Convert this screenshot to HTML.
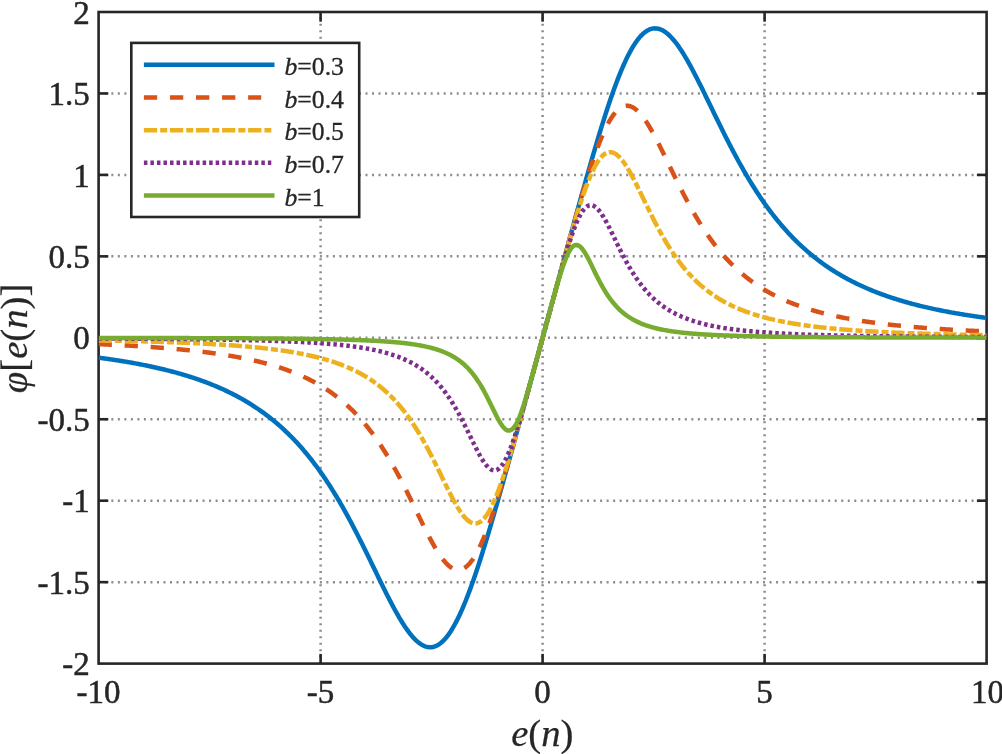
<!DOCTYPE html>
<html><head><meta charset="utf-8"><title>plot</title>
<style>
html,body{margin:0;padding:0;background:#fff;}
body{width:1002px;height:754px;overflow:hidden;}
svg{display:block;}
text{font-family:"Liberation Serif",serif;fill:#262626;stroke:#262626;stroke-width:0.5px;}
.tk{font-size:33px;}
.lg{font-size:25.7px;stroke-width:0.3px;}
.lb{font-size:38.7px;stroke-width:0.25px;}
.it{font-style:italic;}
</style></head><body>
<svg width="1002" height="754" viewBox="0 0 1002 754">
<rect x="0" y="0" width="1002" height="754" fill="#fff"/>

<g stroke="#8c8c8c" stroke-width="2.5" stroke-dasharray="2 4.517" fill="none">
<line x1="320.60" y1="663.60" x2="320.60" y2="12.00" stroke-dashoffset="0.73"/>
<line x1="542.60" y1="663.60" x2="542.60" y2="12.00" stroke-dashoffset="0.73"/>
<line x1="764.60" y1="663.60" x2="764.60" y2="12.00" stroke-dashoffset="0.73"/>
<line x1="98.60" y1="582.15" x2="986.60" y2="582.15" stroke-dashoffset="0.3"/>
<line x1="98.60" y1="500.70" x2="986.60" y2="500.70" stroke-dashoffset="0.3"/>
<line x1="98.60" y1="419.25" x2="986.60" y2="419.25" stroke-dashoffset="0.3"/>
<line x1="98.60" y1="337.80" x2="986.60" y2="337.80" stroke-dashoffset="0.3"/>
<line x1="98.60" y1="256.35" x2="986.60" y2="256.35" stroke-dashoffset="0.3"/>
<line x1="98.60" y1="174.90" x2="986.60" y2="174.90" stroke-dashoffset="0.3"/>
<line x1="98.60" y1="93.45" x2="986.60" y2="93.45" stroke-dashoffset="0.3"/>
</g>
<g stroke="#262626" stroke-width="2.6" fill="none">
<rect x="98.6" y="12.0" width="888.00" height="651.60"/>
<line x1="320.60" y1="663.6" x2="320.60" y2="653.9"/>
<line x1="320.60" y1="12.0" x2="320.60" y2="21.7"/>
<line x1="542.60" y1="663.6" x2="542.60" y2="653.9"/>
<line x1="542.60" y1="12.0" x2="542.60" y2="21.7"/>
<line x1="764.60" y1="663.6" x2="764.60" y2="653.9"/>
<line x1="764.60" y1="12.0" x2="764.60" y2="21.7"/>
<line x1="98.6" y1="582.15" x2="108.3" y2="582.15"/>
<line x1="986.6" y1="582.15" x2="976.9" y2="582.15"/>
<line x1="98.6" y1="500.70" x2="108.3" y2="500.70"/>
<line x1="986.6" y1="500.70" x2="976.9" y2="500.70"/>
<line x1="98.6" y1="419.25" x2="108.3" y2="419.25"/>
<line x1="986.6" y1="419.25" x2="976.9" y2="419.25"/>
<line x1="98.6" y1="337.80" x2="108.3" y2="337.80"/>
<line x1="986.6" y1="337.80" x2="976.9" y2="337.80"/>
<line x1="98.6" y1="256.35" x2="108.3" y2="256.35"/>
<line x1="986.6" y1="256.35" x2="976.9" y2="256.35"/>
<line x1="98.6" y1="174.90" x2="108.3" y2="174.90"/>
<line x1="986.6" y1="174.90" x2="976.9" y2="174.90"/>
<line x1="98.6" y1="93.45" x2="108.3" y2="93.45"/>
<line x1="986.6" y1="93.45" x2="976.9" y2="93.45"/>
</g>
<defs><clipPath id="cp"><rect x="98.60" y="12.00" width="888.00" height="651.60"/></clipPath></defs>
<g fill="none" stroke-width="4.50" stroke-linejoin="round" clip-path="url(#cp)">
<polyline stroke="#0072BD" points="98.60,357.67 99.71,357.81 100.82,357.96 101.93,358.11 103.04,358.26 104.15,358.42 105.26,358.57 106.37,358.73 107.48,358.89 108.59,359.04 109.70,359.21 110.81,359.37 111.92,359.53 113.03,359.70 114.14,359.87 115.25,360.03 116.36,360.21 117.47,360.38 118.58,360.55 119.69,360.73 120.80,360.91 121.91,361.09 123.02,361.27 124.13,361.45 125.24,361.64 126.35,361.82 127.46,362.01 128.57,362.20 129.68,362.40 130.79,362.59 131.90,362.79 133.01,362.99 134.12,363.19 135.23,363.39 136.34,363.60 137.45,363.81 138.56,364.02 139.67,364.23 140.78,364.44 141.89,364.66 143.00,364.88 144.11,365.10 145.22,365.32 146.33,365.55 147.44,365.78 148.55,366.01 149.66,366.24 150.77,366.48 151.88,366.72 152.99,366.96 154.10,367.20 155.21,367.45 156.32,367.70 157.43,367.95 158.54,368.20 159.65,368.46 160.76,368.72 161.87,368.98 162.98,369.25 164.09,369.52 165.20,369.79 166.31,370.07 167.42,370.34 168.53,370.63 169.64,370.91 170.75,371.20 171.86,371.49 172.97,371.78 174.08,372.08 175.19,372.38 176.30,372.69 177.41,372.99 178.52,373.31 179.63,373.62 180.74,373.94 181.85,374.26 182.96,374.59 184.07,374.92 185.18,375.25 186.29,375.59 187.40,375.93 188.51,376.28 189.62,376.63 190.73,376.98 191.84,377.34 192.95,377.70 194.06,378.07 195.17,378.44 196.28,378.81 197.39,379.19 198.50,379.58 199.61,379.96 200.72,380.36 201.83,380.76 202.94,381.16 204.05,381.57 205.16,381.98 206.27,382.40 207.38,382.82 208.49,383.25 209.60,383.68 210.71,384.12 211.82,384.56 212.93,385.01 214.04,385.47 215.15,385.93 216.26,386.39 217.37,386.87 218.48,387.34 219.59,387.83 220.70,388.32 221.81,388.81 222.92,389.31 224.03,389.82 225.14,390.34 226.25,390.86 227.36,391.39 228.47,391.92 229.58,392.46 230.69,393.01 231.80,393.57 232.91,394.13 234.02,394.70 235.13,395.27 236.24,395.86 237.35,396.45 238.46,397.05 239.57,397.65 240.68,398.27 241.79,398.89 242.90,399.52 244.01,400.16 245.12,400.81 246.23,401.46 247.34,402.13 248.45,402.80 249.56,403.48 250.67,404.17 251.78,404.87 252.89,405.58 254.00,406.29 255.11,407.02 256.22,407.76 257.33,408.50 258.44,409.26 259.55,410.03 260.66,410.80 261.77,411.59 262.88,412.38 263.99,413.19 265.10,414.01 266.21,414.84 267.32,415.68 268.43,416.53 269.54,417.39 270.65,418.26 271.76,419.15 272.87,420.05 273.98,420.95 275.09,421.88 276.20,422.81 277.31,423.75 278.42,424.71 279.53,425.68 280.64,426.67 281.75,427.66 282.86,428.67 283.97,429.70 285.08,430.74 286.19,431.79 287.30,432.85 288.41,433.93 289.52,435.02 290.63,436.13 291.74,437.26 292.85,438.39 293.96,439.55 295.07,440.71 296.18,441.90 297.29,443.09 298.40,444.31 299.51,445.54 300.62,446.78 301.73,448.05 302.84,449.33 303.95,450.62 305.06,451.93 306.17,453.26 307.28,454.61 308.39,455.97 309.50,457.35 310.61,458.75 311.72,460.17 312.83,461.60 313.94,463.05 315.05,464.52 316.16,466.01 317.27,467.52 318.38,469.04 319.49,470.59 320.60,472.15 321.71,473.73 322.82,475.33 323.93,476.95 325.04,478.59 326.15,480.25 327.26,481.93 328.37,483.62 329.48,485.34 330.59,487.07 331.70,488.83 332.81,490.60 333.92,492.39 335.03,494.21 336.14,496.04 337.25,497.89 338.36,499.76 339.47,501.65 340.58,503.56 341.69,505.48 342.80,507.43 343.91,509.39 345.02,511.37 346.13,513.38 347.24,515.39 348.35,517.43 349.46,519.48 350.57,521.55 351.68,523.64 352.79,525.74 353.90,527.86 355.01,529.99 356.12,532.14 357.23,534.31 358.34,536.48 359.45,538.67 360.56,540.88 361.67,543.09 362.78,545.32 363.89,547.55 365.00,549.80 366.11,552.05 367.22,554.32 368.33,556.59 369.44,558.86 370.55,561.14 371.66,563.43 372.77,565.72 373.88,568.01 374.99,570.30 376.10,572.59 377.21,574.88 378.32,577.16 379.43,579.44 380.54,581.72 381.65,583.98 382.76,586.24 383.87,588.49 384.98,590.72 386.09,592.94 387.20,595.15 388.31,597.33 389.42,599.50 390.53,601.65 391.64,603.77 392.75,605.87 393.86,607.94 394.97,609.98 396.08,611.99 397.19,613.96 398.30,615.90 399.41,617.81 400.52,619.67 401.63,621.49 402.74,623.27 403.85,625.00 404.96,626.69 406.07,628.32 407.18,629.90 408.29,631.42 409.40,632.89 410.51,634.30 411.62,635.64 412.73,636.93 413.84,638.14 414.95,639.29 416.06,640.37 417.17,641.38 418.28,642.31 419.39,643.17 420.50,643.95 421.61,644.65 422.72,645.27 423.83,645.81 424.94,646.27 426.05,646.64 427.16,646.92 428.27,647.11 429.38,647.22 430.49,647.24 431.60,647.16 432.71,647.00 433.82,646.74 434.93,646.39 436.04,645.95 437.15,645.41 438.26,644.78 439.37,644.06 440.48,643.24 441.59,642.32 442.70,641.32 443.81,640.22 444.92,639.02 446.03,637.74 447.14,636.36 448.25,634.89 449.36,633.33 450.47,631.69 451.58,629.95 452.69,628.13 453.80,626.22 454.91,624.23 456.02,622.15 457.13,619.99 458.24,617.76 459.35,615.44 460.46,613.05 461.57,610.58 462.68,608.04 463.79,605.43 464.90,602.75 466.01,600.00 467.12,597.18 468.23,594.30 469.34,591.36 470.45,588.36 471.56,585.30 472.67,582.19 473.78,579.02 474.89,575.80 476.00,572.52 477.11,569.21 478.22,565.84 479.33,562.43 480.44,558.98 481.55,555.48 482.66,551.95 483.77,548.39 484.88,544.78 485.99,541.14 487.10,537.48 488.21,533.78 489.32,530.05 490.43,526.30 491.54,522.52 492.65,518.72 493.76,514.89 494.87,511.04 495.98,507.18 497.09,503.29 498.20,499.39 499.31,495.47 500.42,491.54 501.53,487.59 502.64,483.63 503.75,479.66 504.86,475.68 505.97,471.69 507.08,467.69 508.19,463.68 509.30,459.66 510.41,455.64 511.52,451.61 512.63,447.57 513.74,443.53 514.85,439.49 515.96,435.44 517.07,431.38 518.18,427.33 519.29,423.27 520.40,419.21 521.51,415.15 522.62,411.08 523.73,407.01 524.84,402.95 525.95,398.88 527.06,394.81 528.17,390.74 529.28,386.67 530.39,382.60 531.50,378.52 532.61,374.45 533.72,370.38 534.83,366.31 535.94,362.23 537.05,358.16 538.16,354.09 539.27,350.02 540.38,345.94 541.49,341.87 542.60,337.80 543.71,333.73 544.82,329.66 545.93,325.58 547.04,321.51 548.15,317.44 549.26,313.37 550.37,309.29 551.48,305.22 552.59,301.15 553.70,297.08 554.81,293.00 555.92,288.93 557.03,284.86 558.14,280.79 559.25,276.72 560.36,272.65 561.47,268.59 562.58,264.52 563.69,260.45 564.80,256.39 565.91,252.33 567.02,248.27 568.13,244.22 569.24,240.16 570.35,236.11 571.46,232.07 572.57,228.03 573.68,223.99 574.79,219.96 575.90,215.94 577.01,211.92 578.12,207.91 579.23,203.91 580.34,199.92 581.45,195.94 582.56,191.97 583.67,188.01 584.78,184.06 585.89,180.13 587.00,176.21 588.11,172.31 589.22,168.42 590.33,164.56 591.44,160.71 592.55,156.88 593.66,153.08 594.77,149.30 595.88,145.55 596.99,141.82 598.10,138.12 599.21,134.46 600.32,130.82 601.43,127.21 602.54,123.65 603.65,120.12 604.76,116.62 605.87,113.17 606.98,109.76 608.09,106.39 609.20,103.08 610.31,99.80 611.42,96.58 612.53,93.41 613.64,90.30 614.75,87.24 615.86,84.24 616.97,81.30 618.08,78.42 619.19,75.60 620.30,72.85 621.41,70.17 622.52,67.56 623.63,65.02 624.74,62.55 625.85,60.16 626.96,57.84 628.07,55.61 629.18,53.45 630.29,51.37 631.40,49.38 632.51,47.47 633.62,45.65 634.73,43.91 635.84,42.27 636.95,40.71 638.06,39.24 639.17,37.86 640.28,36.58 641.39,35.38 642.50,34.28 643.61,33.28 644.72,32.36 645.83,31.54 646.94,30.82 648.05,30.19 649.16,29.65 650.27,29.21 651.38,28.86 652.49,28.60 653.60,28.44 654.71,28.36 655.82,28.38 656.93,28.49 658.04,28.68 659.15,28.96 660.26,29.33 661.37,29.79 662.48,30.33 663.59,30.95 664.70,31.65 665.81,32.43 666.92,33.29 668.03,34.22 669.14,35.23 670.25,36.31 671.36,37.46 672.47,38.67 673.58,39.96 674.69,41.30 675.80,42.71 676.91,44.18 678.02,45.70 679.13,47.28 680.24,48.91 681.35,50.60 682.46,52.33 683.57,54.11 684.68,55.93 685.79,57.79 686.90,59.70 688.01,61.64 689.12,63.61 690.23,65.62 691.34,67.66 692.45,69.73 693.56,71.83 694.67,73.95 695.78,76.10 696.89,78.27 698.00,80.45 699.11,82.66 700.22,84.88 701.33,87.11 702.44,89.36 703.55,91.62 704.66,93.88 705.77,96.16 706.88,98.44 707.99,100.72 709.10,103.01 710.21,105.30 711.32,107.59 712.43,109.88 713.54,112.17 714.65,114.46 715.76,116.74 716.87,119.01 717.98,121.28 719.09,123.55 720.20,125.80 721.31,128.05 722.42,130.28 723.53,132.51 724.64,134.72 725.75,136.93 726.86,139.12 727.97,141.29 729.08,143.46 730.19,145.61 731.30,147.74 732.41,149.86 733.52,151.96 734.63,154.05 735.74,156.12 736.85,158.17 737.96,160.21 739.07,162.22 740.18,164.23 741.29,166.21 742.40,168.17 743.51,170.12 744.62,172.04 745.73,173.95 746.84,175.84 747.95,177.71 749.06,179.56 750.17,181.39 751.28,183.21 752.39,185.00 753.50,186.77 754.61,188.53 755.72,190.26 756.83,191.98 757.94,193.67 759.05,195.35 760.16,197.01 761.27,198.65 762.38,200.27 763.49,201.87 764.60,203.45 765.71,205.01 766.82,206.56 767.93,208.08 769.04,209.59 770.15,211.08 771.26,212.55 772.37,214.00 773.48,215.43 774.59,216.85 775.70,218.25 776.81,219.63 777.92,220.99 779.03,222.34 780.14,223.67 781.25,224.98 782.36,226.27 783.47,227.55 784.58,228.82 785.69,230.06 786.80,231.29 787.91,232.51 789.02,233.70 790.13,234.89 791.24,236.05 792.35,237.21 793.46,238.34 794.57,239.47 795.68,240.58 796.79,241.67 797.90,242.75 799.01,243.81 800.12,244.86 801.23,245.90 802.34,246.93 803.45,247.94 804.56,248.93 805.67,249.92 806.78,250.89 807.89,251.85 809.00,252.79 810.11,253.72 811.22,254.65 812.33,255.55 813.44,256.45 814.55,257.34 815.66,258.21 816.77,259.07 817.88,259.92 818.99,260.76 820.10,261.59 821.21,262.41 822.32,263.22 823.43,264.01 824.54,264.80 825.65,265.57 826.76,266.34 827.87,267.10 828.98,267.84 830.09,268.58 831.20,269.31 832.31,270.02 833.42,270.73 834.53,271.43 835.64,272.12 836.75,272.80 837.86,273.47 838.97,274.14 840.08,274.79 841.19,275.44 842.30,276.08 843.41,276.71 844.52,277.33 845.63,277.95 846.74,278.55 847.85,279.15 848.96,279.74 850.07,280.33 851.18,280.90 852.29,281.47 853.40,282.03 854.51,282.59 855.62,283.14 856.73,283.68 857.84,284.21 858.95,284.74 860.06,285.26 861.17,285.78 862.28,286.29 863.39,286.79 864.50,287.28 865.61,287.77 866.72,288.26 867.83,288.73 868.94,289.21 870.05,289.67 871.16,290.13 872.27,290.59 873.38,291.04 874.49,291.48 875.60,291.92 876.71,292.35 877.82,292.78 878.93,293.20 880.04,293.62 881.15,294.03 882.26,294.44 883.37,294.84 884.48,295.24 885.59,295.64 886.70,296.02 887.81,296.41 888.92,296.79 890.03,297.16 891.14,297.53 892.25,297.90 893.36,298.26 894.47,298.62 895.58,298.97 896.69,299.32 897.80,299.67 898.91,300.01 900.02,300.35 901.13,300.68 902.24,301.01 903.35,301.34 904.46,301.66 905.57,301.98 906.68,302.29 907.79,302.61 908.90,302.91 910.01,303.22 911.12,303.52 912.23,303.82 913.34,304.11 914.45,304.40 915.56,304.69 916.67,304.97 917.78,305.26 918.89,305.53 920.00,305.81 921.11,306.08 922.22,306.35 923.33,306.62 924.44,306.88 925.55,307.14 926.66,307.40 927.77,307.65 928.88,307.90 929.99,308.15 931.10,308.40 932.21,308.64 933.32,308.88 934.43,309.12 935.54,309.36 936.65,309.59 937.76,309.82 938.87,310.05 939.98,310.28 941.09,310.50 942.20,310.72 943.31,310.94 944.42,311.16 945.53,311.37 946.64,311.58 947.75,311.79 948.86,312.00 949.97,312.21 951.08,312.41 952.19,312.61 953.30,312.81 954.41,313.01 955.52,313.20 956.63,313.40 957.74,313.59 958.85,313.78 959.96,313.96 961.07,314.15 962.18,314.33 963.29,314.51 964.40,314.69 965.51,314.87 966.62,315.05 967.73,315.22 968.84,315.39 969.95,315.57 971.06,315.73 972.17,315.90 973.28,316.07 974.39,316.23 975.50,316.39 976.61,316.56 977.72,316.71 978.83,316.87 979.94,317.03 981.05,317.18 982.16,317.34 983.27,317.49 984.38,317.64 985.49,317.79 986.60,317.93"/>
<polyline stroke="#D95319" stroke-dasharray="13.28 12.78" points="98.60,344.14 99.71,344.19 100.82,344.23 101.93,344.28 103.04,344.33 104.15,344.38 105.26,344.43 106.37,344.48 107.48,344.53 108.59,344.58 109.70,344.64 110.81,344.69 111.92,344.74 113.03,344.80 114.14,344.85 115.25,344.90 116.36,344.96 117.47,345.02 118.58,345.07 119.69,345.13 120.80,345.19 121.91,345.24 123.02,345.30 124.13,345.36 125.24,345.42 126.35,345.48 127.46,345.55 128.57,345.61 129.68,345.67 130.79,345.73 131.90,345.80 133.01,345.86 134.12,345.93 135.23,345.99 136.34,346.06 137.45,346.13 138.56,346.20 139.67,346.27 140.78,346.34 141.89,346.41 143.00,346.48 144.11,346.55 145.22,346.62 146.33,346.70 147.44,346.77 148.55,346.85 149.66,346.92 150.77,347.00 151.88,347.08 152.99,347.16 154.10,347.24 155.21,347.32 156.32,347.40 157.43,347.48 158.54,347.56 159.65,347.65 160.76,347.73 161.87,347.82 162.98,347.91 164.09,348.00 165.20,348.08 166.31,348.17 167.42,348.27 168.53,348.36 169.64,348.45 170.75,348.55 171.86,348.64 172.97,348.74 174.08,348.84 175.19,348.94 176.30,349.04 177.41,349.14 178.52,349.24 179.63,349.35 180.74,349.45 181.85,349.56 182.96,349.67 184.07,349.78 185.18,349.89 186.29,350.00 187.40,350.11 188.51,350.23 189.62,350.34 190.73,350.46 191.84,350.58 192.95,350.70 194.06,350.82 195.17,350.94 196.28,351.07 197.39,351.20 198.50,351.32 199.61,351.45 200.72,351.59 201.83,351.72 202.94,351.85 204.05,351.99 205.16,352.13 206.27,352.27 207.38,352.41 208.49,352.55 209.60,352.70 210.71,352.85 211.82,353.00 212.93,353.15 214.04,353.30 215.15,353.46 216.26,353.61 217.37,353.77 218.48,353.94 219.59,354.10 220.70,354.27 221.81,354.43 222.92,354.60 224.03,354.78 225.14,354.95 226.25,355.13 227.36,355.31 228.47,355.49 229.58,355.68 230.69,355.86 231.80,356.05 232.91,356.25 234.02,356.44 235.13,356.64 236.24,356.84 237.35,357.05 238.46,357.25 239.57,357.46 240.68,357.67 241.79,357.89 242.90,358.11 244.01,358.33 245.12,358.55 246.23,358.78 247.34,359.01 248.45,359.25 249.56,359.49 250.67,359.73 251.78,359.97 252.89,360.22 254.00,360.47 255.11,360.73 256.22,360.99 257.33,361.25 258.44,361.52 259.55,361.79 260.66,362.07 261.77,362.35 262.88,362.63 263.99,362.92 265.10,363.21 266.21,363.51 267.32,363.81 268.43,364.12 269.54,364.43 270.65,364.74 271.76,365.07 272.87,365.39 273.98,365.72 275.09,366.06 276.20,366.40 277.31,366.74 278.42,367.10 279.53,367.45 280.64,367.82 281.75,368.18 282.86,368.56 283.97,368.94 285.08,369.33 286.19,369.72 287.30,370.12 288.41,370.52 289.52,370.93 290.63,371.35 291.74,371.78 292.85,372.21 293.96,372.65 295.07,373.10 296.18,373.55 297.29,374.01 298.40,374.48 299.51,374.96 300.62,375.44 301.73,375.94 302.84,376.44 303.95,376.95 305.06,377.46 306.17,377.99 307.28,378.53 308.39,379.07 309.50,379.62 310.61,380.19 311.72,380.76 312.83,381.34 313.94,381.94 315.05,382.54 316.16,383.15 317.27,383.78 318.38,384.41 319.49,385.06 320.60,385.71 321.71,386.38 322.82,387.06 323.93,387.75 325.04,388.45 326.15,389.17 327.26,389.90 328.37,390.64 329.48,391.39 330.59,392.16 331.70,392.94 332.81,393.74 333.92,394.55 335.03,395.37 336.14,396.21 337.25,397.06 338.36,397.93 339.47,398.81 340.58,399.71 341.69,400.63 342.80,401.56 343.91,402.50 345.02,403.47 346.13,404.45 347.24,405.45 348.35,406.47 349.46,407.50 350.57,408.56 351.68,409.63 352.79,410.72 353.90,411.83 355.01,412.96 356.12,414.11 357.23,415.28 358.34,416.47 359.45,417.68 360.56,418.91 361.67,420.17 362.78,421.44 363.89,422.74 365.00,424.06 366.11,425.41 367.22,426.77 368.33,428.16 369.44,429.58 370.55,431.01 371.66,432.47 372.77,433.96 373.88,435.47 374.99,437.00 376.10,438.56 377.21,440.15 378.32,441.76 379.43,443.39 380.54,445.05 381.65,446.74 382.76,448.45 383.87,450.19 384.98,451.96 386.09,453.75 387.20,455.56 388.31,457.40 389.42,459.27 390.53,461.16 391.64,463.08 392.75,465.02 393.86,466.99 394.97,468.98 396.08,471.00 397.19,473.03 398.30,475.10 399.41,477.18 400.52,479.28 401.63,481.41 402.74,483.56 403.85,485.72 404.96,487.91 406.07,490.11 407.18,492.32 408.29,494.55 409.40,496.80 410.51,499.06 411.62,501.32 412.73,503.60 413.84,505.88 414.95,508.17 416.06,510.46 417.17,512.75 418.28,515.04 419.39,517.32 420.50,519.60 421.61,521.87 422.72,524.13 423.83,526.37 424.94,528.60 426.05,530.81 427.16,532.99 428.27,535.15 429.38,537.28 430.49,539.37 431.60,541.42 432.71,543.44 433.82,545.41 434.93,547.33 436.04,549.20 437.15,551.02 438.26,552.77 439.37,554.47 440.48,556.09 441.59,557.64 442.70,559.12 443.81,560.52 444.92,561.83 446.03,563.06 447.14,564.20 448.25,565.24 449.36,566.18 450.47,567.03 451.58,567.77 452.69,568.40 453.80,568.93 454.91,569.34 456.02,569.64 457.13,569.82 458.24,569.88 459.35,569.82 460.46,569.64 461.57,569.34 462.68,568.91 463.79,568.36 464.90,567.68 466.01,566.88 467.12,565.95 468.23,564.90 469.34,563.72 470.45,562.42 471.56,560.99 472.67,559.45 473.78,557.79 474.89,556.01 476.00,554.12 477.11,552.11 478.22,549.99 479.33,547.77 480.44,545.44 481.55,543.01 482.66,540.48 483.77,537.86 484.88,535.14 485.99,532.34 487.10,529.45 488.21,526.48 489.32,523.43 490.43,520.30 491.54,517.11 492.65,513.84 493.76,510.52 494.87,507.13 495.98,503.68 497.09,500.18 498.20,496.63 499.31,493.04 500.42,489.39 501.53,485.71 502.64,481.99 503.75,478.23 504.86,474.44 505.97,470.62 507.08,466.77 508.19,462.89 509.30,458.99 510.41,455.07 511.52,451.13 512.63,447.18 513.74,443.20 514.85,439.22 515.96,435.22 517.07,431.21 518.18,427.19 519.29,423.16 520.40,419.12 521.51,415.08 522.62,411.03 523.73,406.97 524.84,402.92 525.95,398.86 527.06,394.79 528.17,390.73 529.28,386.66 530.39,382.59 531.50,378.52 532.61,374.45 533.72,370.38 534.83,366.31 535.94,362.23 537.05,358.16 538.16,354.09 539.27,350.02 540.38,345.94 541.49,341.87 542.60,337.80 543.71,333.73 544.82,329.66 545.93,325.58 547.04,321.51 548.15,317.44 549.26,313.37 550.37,309.29 551.48,305.22 552.59,301.15 553.70,297.08 554.81,293.01 555.92,288.94 557.03,284.87 558.14,280.81 559.25,276.74 560.36,272.68 561.47,268.63 562.58,264.57 563.69,260.52 564.80,256.48 565.91,252.44 567.02,248.41 568.13,244.39 569.24,240.38 570.35,236.38 571.46,232.40 572.57,228.42 573.68,224.47 574.79,220.53 575.90,216.61 577.01,212.71 578.12,208.83 579.23,204.98 580.34,201.16 581.45,197.37 582.56,193.61 583.67,189.89 584.78,186.21 585.89,182.56 587.00,178.97 588.11,175.42 589.22,171.92 590.33,168.47 591.44,165.08 592.55,161.76 593.66,158.49 594.77,155.30 595.88,152.17 596.99,149.12 598.10,146.15 599.21,143.26 600.32,140.46 601.43,137.74 602.54,135.12 603.65,132.59 604.76,130.16 605.87,127.83 606.98,125.61 608.09,123.49 609.20,121.48 610.31,119.59 611.42,117.81 612.53,116.15 613.64,114.61 614.75,113.18 615.86,111.88 616.97,110.70 618.08,109.65 619.19,108.72 620.30,107.92 621.41,107.24 622.52,106.69 623.63,106.26 624.74,105.96 625.85,105.78 626.96,105.72 628.07,105.78 629.18,105.96 630.29,106.26 631.40,106.67 632.51,107.20 633.62,107.83 634.73,108.57 635.84,109.42 636.95,110.36 638.06,111.40 639.17,112.54 640.28,113.77 641.39,115.08 642.50,116.48 643.61,117.96 644.72,119.51 645.83,121.13 646.94,122.83 648.05,124.58 649.16,126.40 650.27,128.27 651.38,130.19 652.49,132.16 653.60,134.17 654.71,136.23 655.82,138.32 656.93,140.45 658.04,142.61 659.15,144.79 660.26,147.00 661.37,149.23 662.48,151.47 663.59,153.73 664.70,156.00 665.81,158.28 666.92,160.56 668.03,162.85 669.14,165.14 670.25,167.43 671.36,169.72 672.47,172.00 673.58,174.28 674.69,176.54 675.80,178.80 676.91,181.05 678.02,183.28 679.13,185.49 680.24,187.69 681.35,189.88 682.46,192.04 683.57,194.19 684.68,196.32 685.79,198.42 686.90,200.50 688.01,202.57 689.12,204.60 690.23,206.62 691.34,208.61 692.45,210.58 693.56,212.52 694.67,214.44 695.78,216.33 696.89,218.20 698.00,220.04 699.11,221.85 700.22,223.64 701.33,225.41 702.44,227.15 703.55,228.86 704.66,230.55 705.77,232.21 706.88,233.84 707.99,235.45 709.10,237.04 710.21,238.60 711.32,240.13 712.43,241.64 713.54,243.13 714.65,244.59 715.76,246.02 716.87,247.44 717.98,248.83 719.09,250.19 720.20,251.54 721.31,252.86 722.42,254.16 723.53,255.43 724.64,256.69 725.75,257.92 726.86,259.13 727.97,260.32 729.08,261.49 730.19,262.64 731.30,263.77 732.41,264.88 733.52,265.97 734.63,267.04 735.74,268.10 736.85,269.13 737.96,270.15 739.07,271.15 740.18,272.13 741.29,273.10 742.40,274.04 743.51,274.97 744.62,275.89 745.73,276.79 746.84,277.67 747.95,278.54 749.06,279.39 750.17,280.23 751.28,281.05 752.39,281.86 753.50,282.66 754.61,283.44 755.72,284.21 756.83,284.96 757.94,285.70 759.05,286.43 760.16,287.15 761.27,287.85 762.38,288.54 763.49,289.22 764.60,289.89 765.71,290.54 766.82,291.19 767.93,291.82 769.04,292.45 770.15,293.06 771.26,293.66 772.37,294.26 773.48,294.84 774.59,295.41 775.70,295.98 776.81,296.53 777.92,297.07 779.03,297.61 780.14,298.14 781.25,298.65 782.36,299.16 783.47,299.66 784.58,300.16 785.69,300.64 786.80,301.12 787.91,301.59 789.02,302.05 790.13,302.50 791.24,302.95 792.35,303.39 793.46,303.82 794.57,304.25 795.68,304.67 796.79,305.08 797.90,305.48 799.01,305.88 800.12,306.27 801.23,306.66 802.34,307.04 803.45,307.42 804.56,307.78 805.67,308.15 806.78,308.50 807.89,308.86 809.00,309.20 810.11,309.54 811.22,309.88 812.33,310.21 813.44,310.53 814.55,310.86 815.66,311.17 816.77,311.48 817.88,311.79 818.99,312.09 820.10,312.39 821.21,312.68 822.32,312.97 823.43,313.25 824.54,313.53 825.65,313.81 826.76,314.08 827.87,314.35 828.98,314.61 830.09,314.87 831.20,315.13 832.31,315.38 833.42,315.63 834.53,315.87 835.64,316.11 836.75,316.35 837.86,316.59 838.97,316.82 840.08,317.05 841.19,317.27 842.30,317.49 843.41,317.71 844.52,317.93 845.63,318.14 846.74,318.35 847.85,318.55 848.96,318.76 850.07,318.96 851.18,319.16 852.29,319.35 853.40,319.55 854.51,319.74 855.62,319.92 856.73,320.11 857.84,320.29 858.95,320.47 860.06,320.65 861.17,320.82 862.28,321.00 863.39,321.17 864.50,321.33 865.61,321.50 866.72,321.66 867.83,321.83 868.94,321.99 870.05,322.14 871.16,322.30 872.27,322.45 873.38,322.60 874.49,322.75 875.60,322.90 876.71,323.05 877.82,323.19 878.93,323.33 880.04,323.47 881.15,323.61 882.26,323.75 883.37,323.88 884.48,324.01 885.59,324.15 886.70,324.28 887.81,324.40 888.92,324.53 890.03,324.66 891.14,324.78 892.25,324.90 893.36,325.02 894.47,325.14 895.58,325.26 896.69,325.37 897.80,325.49 898.91,325.60 900.02,325.71 901.13,325.82 902.24,325.93 903.35,326.04 904.46,326.15 905.57,326.25 906.68,326.36 907.79,326.46 908.90,326.56 910.01,326.66 911.12,326.76 912.23,326.86 913.34,326.96 914.45,327.05 915.56,327.15 916.67,327.24 917.78,327.33 918.89,327.43 920.00,327.52 921.11,327.60 922.22,327.69 923.33,327.78 924.44,327.87 925.55,327.95 926.66,328.04 927.77,328.12 928.88,328.20 929.99,328.28 931.10,328.36 932.21,328.44 933.32,328.52 934.43,328.60 935.54,328.68 936.65,328.75 937.76,328.83 938.87,328.90 939.98,328.98 941.09,329.05 942.20,329.12 943.31,329.19 944.42,329.26 945.53,329.33 946.64,329.40 947.75,329.47 948.86,329.54 949.97,329.61 951.08,329.67 952.19,329.74 953.30,329.80 954.41,329.87 955.52,329.93 956.63,329.99 957.74,330.05 958.85,330.12 959.96,330.18 961.07,330.24 962.18,330.30 963.29,330.36 964.40,330.41 965.51,330.47 966.62,330.53 967.73,330.58 968.84,330.64 969.95,330.70 971.06,330.75 972.17,330.80 973.28,330.86 974.39,330.91 975.50,330.96 976.61,331.02 977.72,331.07 978.83,331.12 979.94,331.17 981.05,331.22 982.16,331.27 983.27,331.32 984.38,331.37 985.49,331.41 986.60,331.46"/>
<polyline stroke="#EDB120" stroke-dasharray="13.28 3 7 2.78" points="98.60,340.40 99.71,340.42 100.82,340.44 101.93,340.46 103.04,340.48 104.15,340.50 105.26,340.52 106.37,340.54 107.48,340.56 108.59,340.59 109.70,340.61 110.81,340.63 111.92,340.65 113.03,340.67 114.14,340.70 115.25,340.72 116.36,340.74 117.47,340.76 118.58,340.79 119.69,340.81 120.80,340.83 121.91,340.86 123.02,340.88 124.13,340.91 125.24,340.93 126.35,340.96 127.46,340.98 128.57,341.01 129.68,341.03 130.79,341.06 131.90,341.09 133.01,341.11 134.12,341.14 135.23,341.17 136.34,341.19 137.45,341.22 138.56,341.25 139.67,341.28 140.78,341.31 141.89,341.34 143.00,341.37 144.11,341.40 145.22,341.43 146.33,341.46 147.44,341.49 148.55,341.52 149.66,341.55 150.77,341.58 151.88,341.61 152.99,341.65 154.10,341.68 155.21,341.71 156.32,341.75 157.43,341.78 158.54,341.82 159.65,341.85 160.76,341.89 161.87,341.92 162.98,341.96 164.09,341.99 165.20,342.03 166.31,342.07 167.42,342.11 168.53,342.14 169.64,342.18 170.75,342.22 171.86,342.26 172.97,342.30 174.08,342.34 175.19,342.38 176.30,342.43 177.41,342.47 178.52,342.51 179.63,342.55 180.74,342.60 181.85,342.64 182.96,342.69 184.07,342.73 185.18,342.78 186.29,342.82 187.40,342.87 188.51,342.92 189.62,342.97 190.73,343.02 191.84,343.06 192.95,343.11 194.06,343.17 195.17,343.22 196.28,343.27 197.39,343.32 198.50,343.37 199.61,343.43 200.72,343.48 201.83,343.54 202.94,343.59 204.05,343.65 205.16,343.71 206.27,343.77 207.38,343.83 208.49,343.89 209.60,343.95 210.71,344.01 211.82,344.07 212.93,344.13 214.04,344.20 215.15,344.26 216.26,344.33 217.37,344.39 218.48,344.46 219.59,344.53 220.70,344.60 221.81,344.67 222.92,344.74 224.03,344.81 225.14,344.89 226.25,344.96 227.36,345.04 228.47,345.11 229.58,345.19 230.69,345.27 231.80,345.35 232.91,345.43 234.02,345.51 235.13,345.59 236.24,345.68 237.35,345.76 238.46,345.85 239.57,345.94 240.68,346.03 241.79,346.12 242.90,346.21 244.01,346.30 245.12,346.40 246.23,346.49 247.34,346.59 248.45,346.69 249.56,346.79 250.67,346.89 251.78,347.00 252.89,347.10 254.00,347.21 255.11,347.31 256.22,347.42 257.33,347.54 258.44,347.65 259.55,347.76 260.66,347.88 261.77,348.00 262.88,348.12 263.99,348.24 265.10,348.37 266.21,348.49 267.32,348.62 268.43,348.75 269.54,348.88 270.65,349.02 271.76,349.15 272.87,349.29 273.98,349.43 275.09,349.57 276.20,349.72 277.31,349.87 278.42,350.02 279.53,350.17 280.64,350.33 281.75,350.48 282.86,350.64 283.97,350.81 285.08,350.97 286.19,351.14 287.30,351.31 288.41,351.49 289.52,351.66 290.63,351.84 291.74,352.03 292.85,352.21 293.96,352.40 295.07,352.60 296.18,352.79 297.29,352.99 298.40,353.20 299.51,353.40 300.62,353.61 301.73,353.83 302.84,354.05 303.95,354.27 305.06,354.49 306.17,354.72 307.28,354.96 308.39,355.20 309.50,355.44 310.61,355.69 311.72,355.94 312.83,356.20 313.94,356.46 315.05,356.72 316.16,356.99 317.27,357.27 318.38,357.55 319.49,357.84 320.60,358.13 321.71,358.43 322.82,358.73 323.93,359.04 325.04,359.36 326.15,359.68 327.26,360.00 328.37,360.34 329.48,360.68 330.59,361.03 331.70,361.38 332.81,361.74 333.92,362.11 335.03,362.48 336.14,362.87 337.25,363.26 338.36,363.65 339.47,364.06 340.58,364.47 341.69,364.90 342.80,365.33 343.91,365.77 345.02,366.22 346.13,366.68 347.24,367.14 348.35,367.62 349.46,368.11 350.57,368.61 351.68,369.12 352.79,369.64 353.90,370.17 355.01,370.71 356.12,371.26 357.23,371.82 358.34,372.40 359.45,372.99 360.56,373.59 361.67,374.21 362.78,374.83 363.89,375.47 365.00,376.13 366.11,376.80 367.22,377.48 368.33,378.18 369.44,378.90 370.55,379.63 371.66,380.37 372.77,381.14 373.88,381.91 374.99,382.71 376.10,383.53 377.21,384.36 378.32,385.21 379.43,386.08 380.54,386.97 381.65,387.88 382.76,388.81 383.87,389.76 384.98,390.73 386.09,391.72 387.20,392.73 388.31,393.77 389.42,394.83 390.53,395.92 391.64,397.02 392.75,398.16 393.86,399.31 394.97,400.50 396.08,401.71 397.19,402.94 398.30,404.20 399.41,405.49 400.52,406.81 401.63,408.16 402.74,409.53 403.85,410.94 404.96,412.37 406.07,413.83 407.18,415.33 408.29,416.85 409.40,418.41 410.51,420.00 411.62,421.62 412.73,423.27 413.84,424.95 414.95,426.67 416.06,428.42 417.17,430.20 418.28,432.01 419.39,433.85 420.50,435.73 421.61,437.64 422.72,439.58 423.83,441.55 424.94,443.55 426.05,445.58 427.16,447.64 428.27,449.72 429.38,451.84 430.49,453.98 431.60,456.14 432.71,458.32 433.82,460.53 434.93,462.76 436.04,465.00 437.15,467.26 438.26,469.53 439.37,471.81 440.48,474.09 441.59,476.38 442.70,478.67 443.81,480.96 444.92,483.24 446.03,485.51 447.14,487.76 448.25,490.00 449.36,492.21 450.47,494.39 451.58,496.53 452.69,498.64 453.80,500.70 454.91,502.71 456.02,504.66 457.13,506.55 458.24,508.38 459.35,510.12 460.46,511.79 461.57,513.37 462.68,514.85 463.79,516.24 464.90,517.52 466.01,518.70 467.12,519.75 468.23,520.68 469.34,521.49 470.45,522.17 471.56,522.70 472.67,523.10 473.78,523.36 474.89,523.46 476.00,523.42 477.11,523.22 478.22,522.87 479.33,522.37 480.44,521.70 481.55,520.89 482.66,519.91 483.77,518.78 484.88,517.49 485.99,516.06 487.10,514.47 488.21,512.73 489.32,510.85 490.43,508.83 491.54,506.67 492.65,504.39 493.76,501.97 494.87,499.43 495.98,496.77 497.09,494.00 498.20,491.12 499.31,488.14 500.42,485.06 501.53,481.89 502.64,478.63 503.75,475.30 504.86,471.89 505.97,468.41 507.08,464.87 508.19,461.26 509.30,457.61 510.41,453.90 511.52,450.14 512.63,446.35 513.74,442.52 514.85,438.65 515.96,434.75 517.07,430.83 518.18,426.89 519.29,422.92 520.40,418.93 521.51,414.93 522.62,410.92 523.73,406.89 524.84,402.86 525.95,398.81 527.06,394.76 528.17,390.71 529.28,386.65 530.39,382.58 531.50,378.52 532.61,374.45 533.72,370.38 534.83,366.31 535.94,362.23 537.05,358.16 538.16,354.09 539.27,350.02 540.38,345.94 541.49,341.87 542.60,337.80 543.71,333.73 544.82,329.66 545.93,325.58 547.04,321.51 548.15,317.44 549.26,313.37 550.37,309.29 551.48,305.22 552.59,301.15 553.70,297.08 554.81,293.02 555.92,288.95 557.03,284.89 558.14,280.84 559.25,276.79 560.36,272.74 561.47,268.71 562.58,264.68 563.69,260.67 564.80,256.67 565.91,252.68 567.02,248.71 568.13,244.77 569.24,240.85 570.35,236.95 571.46,233.08 572.57,229.25 573.68,225.46 574.79,221.70 575.90,217.99 577.01,214.34 578.12,210.73 579.23,207.19 580.34,203.71 581.45,200.30 582.56,196.97 583.67,193.71 584.78,190.54 585.89,187.46 587.00,184.48 588.11,181.60 589.22,178.83 590.33,176.17 591.44,173.63 592.55,171.21 593.66,168.93 594.77,166.77 595.88,164.75 596.99,162.87 598.10,161.13 599.21,159.54 600.32,158.11 601.43,156.82 602.54,155.69 603.65,154.71 604.76,153.90 605.87,153.23 606.98,152.73 608.09,152.38 609.20,152.18 610.31,152.14 611.42,152.24 612.53,152.50 613.64,152.90 614.75,153.43 615.86,154.11 616.97,154.92 618.08,155.85 619.19,156.90 620.30,158.08 621.41,159.36 622.52,160.75 623.63,162.23 624.74,163.81 625.85,165.48 626.96,167.22 628.07,169.05 629.18,170.94 630.29,172.89 631.40,174.90 632.51,176.96 633.62,179.07 634.73,181.21 635.84,183.39 636.95,185.60 638.06,187.84 639.17,190.09 640.28,192.36 641.39,194.64 642.50,196.93 643.61,199.22 644.72,201.51 645.83,203.79 646.94,206.07 648.05,208.34 649.16,210.60 650.27,212.84 651.38,215.07 652.49,217.28 653.60,219.46 654.71,221.62 655.82,223.76 656.93,225.88 658.04,227.96 659.15,230.02 660.26,232.05 661.37,234.05 662.48,236.02 663.59,237.96 664.70,239.87 665.81,241.75 666.92,243.59 668.03,245.40 669.14,247.18 670.25,248.93 671.36,250.65 672.47,252.33 673.58,253.98 674.69,255.60 675.80,257.19 676.91,258.75 678.02,260.27 679.13,261.77 680.24,263.23 681.35,264.66 682.46,266.07 683.57,267.44 684.68,268.79 685.79,270.11 686.90,271.40 688.01,272.66 689.12,273.89 690.23,275.10 691.34,276.29 692.45,277.44 693.56,278.58 694.67,279.68 695.78,280.77 696.89,281.83 698.00,282.87 699.11,283.88 700.22,284.87 701.33,285.84 702.44,286.79 703.55,287.72 704.66,288.63 705.77,289.52 706.88,290.39 707.99,291.24 709.10,292.07 710.21,292.89 711.32,293.69 712.43,294.46 713.54,295.23 714.65,295.97 715.76,296.70 716.87,297.42 717.98,298.12 719.09,298.80 720.20,299.47 721.31,300.13 722.42,300.77 723.53,301.39 724.64,302.01 725.75,302.61 726.86,303.20 727.97,303.78 729.08,304.34 730.19,304.89 731.30,305.43 732.41,305.96 733.52,306.48 734.63,306.99 735.74,307.49 736.85,307.98 737.96,308.46 739.07,308.92 740.18,309.38 741.29,309.83 742.40,310.27 743.51,310.70 744.62,311.13 745.73,311.54 746.84,311.95 747.95,312.34 749.06,312.73 750.17,313.12 751.28,313.49 752.39,313.86 753.50,314.22 754.61,314.57 755.72,314.92 756.83,315.26 757.94,315.60 759.05,315.92 760.16,316.24 761.27,316.56 762.38,316.87 763.49,317.17 764.60,317.47 765.71,317.76 766.82,318.05 767.93,318.33 769.04,318.61 770.15,318.88 771.26,319.14 772.37,319.40 773.48,319.66 774.59,319.91 775.70,320.16 776.81,320.40 777.92,320.64 779.03,320.88 780.14,321.11 781.25,321.33 782.36,321.55 783.47,321.77 784.58,321.99 785.69,322.20 786.80,322.40 787.91,322.61 789.02,322.81 790.13,323.00 791.24,323.20 792.35,323.39 793.46,323.57 794.57,323.76 795.68,323.94 796.79,324.11 797.90,324.29 799.01,324.46 800.12,324.63 801.23,324.79 802.34,324.96 803.45,325.12 804.56,325.27 805.67,325.43 806.78,325.58 807.89,325.73 809.00,325.88 810.11,326.03 811.22,326.17 812.33,326.31 813.44,326.45 814.55,326.58 815.66,326.72 816.77,326.85 817.88,326.98 818.99,327.11 820.10,327.23 821.21,327.36 822.32,327.48 823.43,327.60 824.54,327.72 825.65,327.84 826.76,327.95 827.87,328.06 828.98,328.18 830.09,328.29 831.20,328.39 832.31,328.50 833.42,328.60 834.53,328.71 835.64,328.81 836.75,328.91 837.86,329.01 838.97,329.11 840.08,329.20 841.19,329.30 842.30,329.39 843.41,329.48 844.52,329.57 845.63,329.66 846.74,329.75 847.85,329.84 848.96,329.92 850.07,330.01 851.18,330.09 852.29,330.17 853.40,330.25 854.51,330.33 855.62,330.41 856.73,330.49 857.84,330.56 858.95,330.64 860.06,330.71 861.17,330.79 862.28,330.86 863.39,330.93 864.50,331.00 865.61,331.07 866.72,331.14 867.83,331.21 868.94,331.27 870.05,331.34 871.16,331.40 872.27,331.47 873.38,331.53 874.49,331.59 875.60,331.65 876.71,331.71 877.82,331.77 878.93,331.83 880.04,331.89 881.15,331.95 882.26,332.01 883.37,332.06 884.48,332.12 885.59,332.17 886.70,332.23 887.81,332.28 888.92,332.33 890.03,332.38 891.14,332.43 892.25,332.49 893.36,332.54 894.47,332.58 895.58,332.63 896.69,332.68 897.80,332.73 898.91,332.78 900.02,332.82 901.13,332.87 902.24,332.91 903.35,332.96 904.46,333.00 905.57,333.05 906.68,333.09 907.79,333.13 908.90,333.17 910.01,333.22 911.12,333.26 912.23,333.30 913.34,333.34 914.45,333.38 915.56,333.42 916.67,333.46 917.78,333.49 918.89,333.53 920.00,333.57 921.11,333.61 922.22,333.64 923.33,333.68 924.44,333.71 925.55,333.75 926.66,333.78 927.77,333.82 928.88,333.85 929.99,333.89 931.10,333.92 932.21,333.95 933.32,333.99 934.43,334.02 935.54,334.05 936.65,334.08 937.76,334.11 938.87,334.14 939.98,334.17 941.09,334.20 942.20,334.23 943.31,334.26 944.42,334.29 945.53,334.32 946.64,334.35 947.75,334.38 948.86,334.41 949.97,334.43 951.08,334.46 952.19,334.49 953.30,334.51 954.41,334.54 955.52,334.57 956.63,334.59 957.74,334.62 958.85,334.64 959.96,334.67 961.07,334.69 962.18,334.72 963.29,334.74 964.40,334.77 965.51,334.79 966.62,334.81 967.73,334.84 968.84,334.86 969.95,334.88 971.06,334.90 972.17,334.93 973.28,334.95 974.39,334.97 975.50,334.99 976.61,335.01 977.72,335.04 978.83,335.06 979.94,335.08 981.05,335.10 982.16,335.12 983.27,335.14 984.38,335.16 985.49,335.18 986.60,335.20"/>
<polyline stroke="#7E2F8E" stroke-dasharray="3.5 3.025" points="98.60,338.48 99.71,338.48 100.82,338.49 101.93,338.49 103.04,338.50 104.15,338.50 105.26,338.51 106.37,338.52 107.48,338.52 108.59,338.53 109.70,338.53 110.81,338.54 111.92,338.54 113.03,338.55 114.14,338.55 115.25,338.56 116.36,338.57 117.47,338.57 118.58,338.58 119.69,338.58 120.80,338.59 121.91,338.60 123.02,338.60 124.13,338.61 125.24,338.62 126.35,338.62 127.46,338.63 128.57,338.64 129.68,338.64 130.79,338.65 131.90,338.66 133.01,338.66 134.12,338.67 135.23,338.68 136.34,338.69 137.45,338.69 138.56,338.70 139.67,338.71 140.78,338.71 141.89,338.72 143.00,338.73 144.11,338.74 145.22,338.75 146.33,338.75 147.44,338.76 148.55,338.77 149.66,338.78 150.77,338.79 151.88,338.79 152.99,338.80 154.10,338.81 155.21,338.82 156.32,338.83 157.43,338.84 158.54,338.85 159.65,338.86 160.76,338.87 161.87,338.88 162.98,338.88 164.09,338.89 165.20,338.90 166.31,338.91 167.42,338.92 168.53,338.93 169.64,338.94 170.75,338.95 171.86,338.96 172.97,338.97 174.08,338.99 175.19,339.00 176.30,339.01 177.41,339.02 178.52,339.03 179.63,339.04 180.74,339.05 181.85,339.06 182.96,339.08 184.07,339.09 185.18,339.10 186.29,339.11 187.40,339.12 188.51,339.14 189.62,339.15 190.73,339.16 191.84,339.17 192.95,339.19 194.06,339.20 195.17,339.21 196.28,339.23 197.39,339.24 198.50,339.26 199.61,339.27 200.72,339.28 201.83,339.30 202.94,339.31 204.05,339.33 205.16,339.34 206.27,339.36 207.38,339.37 208.49,339.39 209.60,339.41 210.71,339.42 211.82,339.44 212.93,339.46 214.04,339.47 215.15,339.49 216.26,339.51 217.37,339.52 218.48,339.54 219.59,339.56 220.70,339.58 221.81,339.60 222.92,339.61 224.03,339.63 225.14,339.65 226.25,339.67 227.36,339.69 228.47,339.71 229.58,339.73 230.69,339.75 231.80,339.77 232.91,339.80 234.02,339.82 235.13,339.84 236.24,339.86 237.35,339.88 238.46,339.91 239.57,339.93 240.68,339.95 241.79,339.98 242.90,340.00 244.01,340.03 245.12,340.05 246.23,340.08 247.34,340.10 248.45,340.13 249.56,340.15 250.67,340.18 251.78,340.21 252.89,340.24 254.00,340.26 255.11,340.29 256.22,340.32 257.33,340.35 258.44,340.38 259.55,340.41 260.66,340.44 261.77,340.47 262.88,340.51 263.99,340.54 265.10,340.57 266.21,340.60 267.32,340.64 268.43,340.67 269.54,340.71 270.65,340.74 271.76,340.78 272.87,340.82 273.98,340.85 275.09,340.89 276.20,340.93 277.31,340.97 278.42,341.01 279.53,341.05 280.64,341.09 281.75,341.13 282.86,341.18 283.97,341.22 285.08,341.26 286.19,341.31 287.30,341.36 288.41,341.40 289.52,341.45 290.63,341.50 291.74,341.55 292.85,341.60 293.96,341.65 295.07,341.70 296.18,341.75 297.29,341.80 298.40,341.86 299.51,341.91 300.62,341.97 301.73,342.03 302.84,342.09 303.95,342.15 305.06,342.21 306.17,342.27 307.28,342.33 308.39,342.40 309.50,342.46 310.61,342.53 311.72,342.60 312.83,342.67 313.94,342.74 315.05,342.81 316.16,342.88 317.27,342.96 318.38,343.03 319.49,343.11 320.60,343.19 321.71,343.27 322.82,343.36 323.93,343.44 325.04,343.53 326.15,343.61 327.26,343.70 328.37,343.79 329.48,343.89 330.59,343.98 331.70,344.08 332.81,344.18 333.92,344.28 335.03,344.38 336.14,344.49 337.25,344.60 338.36,344.71 339.47,344.82 340.58,344.93 341.69,345.05 342.80,345.17 343.91,345.29 345.02,345.42 346.13,345.55 347.24,345.68 348.35,345.81 349.46,345.95 350.57,346.09 351.68,346.23 352.79,346.38 353.90,346.53 355.01,346.68 356.12,346.84 357.23,347.00 358.34,347.16 359.45,347.33 360.56,347.50 361.67,347.68 362.78,347.86 363.89,348.04 365.00,348.23 366.11,348.43 367.22,348.62 368.33,348.83 369.44,349.04 370.55,349.25 371.66,349.47 372.77,349.69 373.88,349.92 374.99,350.16 376.10,350.40 377.21,350.65 378.32,350.90 379.43,351.16 380.54,351.43 381.65,351.71 382.76,351.99 383.87,352.28 384.98,352.58 386.09,352.88 387.20,353.20 388.31,353.52 389.42,353.85 390.53,354.19 391.64,354.54 392.75,354.90 393.86,355.27 394.97,355.65 396.08,356.04 397.19,356.44 398.30,356.85 399.41,357.28 400.52,357.71 401.63,358.16 402.74,358.63 403.85,359.10 404.96,359.59 406.07,360.10 407.18,360.61 408.29,361.15 409.40,361.70 410.51,362.27 411.62,362.85 412.73,363.45 413.84,364.07 414.95,364.71 416.06,365.37 417.17,366.05 418.28,366.75 419.39,367.47 420.50,368.21 421.61,368.97 422.72,369.76 423.83,370.58 424.94,371.42 426.05,372.28 427.16,373.18 428.27,374.10 429.38,375.05 430.49,376.03 431.60,377.04 432.71,378.08 433.82,379.15 434.93,380.26 436.04,381.41 437.15,382.58 438.26,383.80 439.37,385.05 440.48,386.34 441.59,387.67 442.70,389.04 443.81,390.45 444.92,391.90 446.03,393.39 447.14,394.93 448.25,396.51 449.36,398.14 450.47,399.81 451.58,401.53 452.69,403.29 453.80,405.09 454.91,406.94 456.02,408.84 457.13,410.78 458.24,412.76 459.35,414.78 460.46,416.85 461.57,418.95 462.68,421.09 463.79,423.26 464.90,425.46 466.01,427.69 467.12,429.95 468.23,432.22 469.34,434.50 470.45,436.79 471.56,439.08 472.67,441.36 473.78,443.63 474.89,445.88 476.00,448.09 477.11,450.26 478.22,452.39 479.33,454.45 480.44,456.43 481.55,458.34 482.66,460.15 483.77,461.84 484.88,463.42 485.99,464.87 487.10,466.17 488.21,467.32 489.32,468.31 490.43,469.11 491.54,469.73 492.65,470.16 493.76,470.38 494.87,470.40 495.98,470.20 497.09,469.79 498.20,469.16 499.31,468.31 500.42,467.24 501.53,465.96 502.64,464.46 503.75,462.75 504.86,460.84 505.97,458.74 507.08,456.45 508.19,453.98 509.30,451.35 510.41,448.56 511.52,445.61 512.63,442.54 513.74,439.33 514.85,436.01 515.96,432.59 517.07,429.07 518.18,425.47 519.29,421.79 520.40,418.05 521.51,414.24 522.62,410.39 523.73,406.49 524.84,402.56 525.95,398.60 527.06,394.61 528.17,390.60 529.28,386.58 530.39,382.54 531.50,378.49 532.61,374.43 533.72,370.37 534.83,366.30 535.94,362.23 537.05,358.16 538.16,354.09 539.27,350.02 540.38,345.94 541.49,341.87 542.60,337.80 543.71,333.73 544.82,329.66 545.93,325.58 547.04,321.51 548.15,317.44 549.26,313.37 550.37,309.30 551.48,305.23 552.59,301.17 553.70,297.11 554.81,293.06 555.92,289.02 557.03,285.00 558.14,280.99 559.25,277.00 560.36,273.04 561.47,269.11 562.58,265.21 563.69,261.36 564.80,257.55 565.91,253.81 567.02,250.13 568.13,246.53 569.24,243.01 570.35,239.59 571.46,236.27 572.57,233.06 573.68,229.99 574.79,227.04 575.90,224.25 577.01,221.62 578.12,219.15 579.23,216.86 580.34,214.76 581.45,212.85 582.56,211.14 583.67,209.64 584.78,208.36 585.89,207.29 587.00,206.44 588.11,205.81 589.22,205.40 590.33,205.20 591.44,205.22 592.55,205.44 593.66,205.87 594.77,206.49 595.88,207.29 596.99,208.28 598.10,209.43 599.21,210.73 600.32,212.18 601.43,213.76 602.54,215.45 603.65,217.26 604.76,219.17 605.87,221.15 606.98,223.21 608.09,225.34 609.20,227.51 610.31,229.72 611.42,231.97 612.53,234.24 613.64,236.52 614.75,238.81 615.86,241.10 616.97,243.38 618.08,245.65 619.19,247.91 620.30,250.14 621.41,252.34 622.52,254.51 623.63,256.65 624.74,258.75 625.85,260.82 626.96,262.84 628.07,264.82 629.18,266.76 630.29,268.66 631.40,270.51 632.51,272.31 633.62,274.07 634.73,275.79 635.84,277.46 636.95,279.09 638.06,280.67 639.17,282.21 640.28,283.70 641.39,285.15 642.50,286.56 643.61,287.93 644.72,289.26 645.83,290.55 646.94,291.80 648.05,293.02 649.16,294.19 650.27,295.34 651.38,296.45 652.49,297.52 653.60,298.56 654.71,299.57 655.82,300.55 656.93,301.50 658.04,302.42 659.15,303.32 660.26,304.18 661.37,305.02 662.48,305.84 663.59,306.63 664.70,307.39 665.81,308.13 666.92,308.85 668.03,309.55 669.14,310.23 670.25,310.89 671.36,311.53 672.47,312.15 673.58,312.75 674.69,313.33 675.80,313.90 676.91,314.45 678.02,314.99 679.13,315.50 680.24,316.01 681.35,316.50 682.46,316.97 683.57,317.44 684.68,317.89 685.79,318.32 686.90,318.75 688.01,319.16 689.12,319.56 690.23,319.95 691.34,320.33 692.45,320.70 693.56,321.06 694.67,321.41 695.78,321.75 696.89,322.08 698.00,322.40 699.11,322.72 700.22,323.02 701.33,323.32 702.44,323.61 703.55,323.89 704.66,324.17 705.77,324.44 706.88,324.70 707.99,324.95 709.10,325.20 710.21,325.44 711.32,325.68 712.43,325.91 713.54,326.13 714.65,326.35 715.76,326.56 716.87,326.77 717.98,326.98 719.09,327.17 720.20,327.37 721.31,327.56 722.42,327.74 723.53,327.92 724.64,328.10 725.75,328.27 726.86,328.44 727.97,328.60 729.08,328.76 730.19,328.92 731.30,329.07 732.41,329.22 733.52,329.37 734.63,329.51 735.74,329.65 736.85,329.79 737.96,329.92 739.07,330.05 740.18,330.18 741.29,330.31 742.40,330.43 743.51,330.55 744.62,330.67 745.73,330.78 746.84,330.89 747.95,331.00 749.06,331.11 750.17,331.22 751.28,331.32 752.39,331.42 753.50,331.52 754.61,331.62 755.72,331.71 756.83,331.81 757.94,331.90 759.05,331.99 760.16,332.07 761.27,332.16 762.38,332.24 763.49,332.33 764.60,332.41 765.71,332.49 766.82,332.57 767.93,332.64 769.04,332.72 770.15,332.79 771.26,332.86 772.37,332.93 773.48,333.00 774.59,333.07 775.70,333.14 776.81,333.20 777.92,333.27 779.03,333.33 780.14,333.39 781.25,333.45 782.36,333.51 783.47,333.57 784.58,333.63 785.69,333.69 786.80,333.74 787.91,333.80 789.02,333.85 790.13,333.90 791.24,333.95 792.35,334.00 793.46,334.05 794.57,334.10 795.68,334.15 796.79,334.20 797.90,334.24 799.01,334.29 800.12,334.34 801.23,334.38 802.34,334.42 803.45,334.47 804.56,334.51 805.67,334.55 806.78,334.59 807.89,334.63 809.00,334.67 810.11,334.71 811.22,334.75 812.33,334.78 813.44,334.82 814.55,334.86 815.66,334.89 816.77,334.93 817.88,334.96 818.99,335.00 820.10,335.03 821.21,335.06 822.32,335.09 823.43,335.13 824.54,335.16 825.65,335.19 826.76,335.22 827.87,335.25 828.98,335.28 830.09,335.31 831.20,335.34 832.31,335.36 833.42,335.39 834.53,335.42 835.64,335.45 836.75,335.47 837.86,335.50 838.97,335.52 840.08,335.55 841.19,335.57 842.30,335.60 843.41,335.62 844.52,335.65 845.63,335.67 846.74,335.69 847.85,335.72 848.96,335.74 850.07,335.76 851.18,335.78 852.29,335.80 853.40,335.83 854.51,335.85 855.62,335.87 856.73,335.89 857.84,335.91 858.95,335.93 860.06,335.95 861.17,335.97 862.28,335.99 863.39,336.00 864.50,336.02 865.61,336.04 866.72,336.06 867.83,336.08 868.94,336.09 870.05,336.11 871.16,336.13 872.27,336.14 873.38,336.16 874.49,336.18 875.60,336.19 876.71,336.21 877.82,336.23 878.93,336.24 880.04,336.26 881.15,336.27 882.26,336.29 883.37,336.30 884.48,336.32 885.59,336.33 886.70,336.34 887.81,336.36 888.92,336.37 890.03,336.39 891.14,336.40 892.25,336.41 893.36,336.43 894.47,336.44 895.58,336.45 896.69,336.46 897.80,336.48 898.91,336.49 900.02,336.50 901.13,336.51 902.24,336.52 903.35,336.54 904.46,336.55 905.57,336.56 906.68,336.57 907.79,336.58 908.90,336.59 910.01,336.60 911.12,336.61 912.23,336.63 913.34,336.64 914.45,336.65 915.56,336.66 916.67,336.67 917.78,336.68 918.89,336.69 920.00,336.70 921.11,336.71 922.22,336.72 923.33,336.72 924.44,336.73 925.55,336.74 926.66,336.75 927.77,336.76 928.88,336.77 929.99,336.78 931.10,336.79 932.21,336.80 933.32,336.81 934.43,336.81 935.54,336.82 936.65,336.83 937.76,336.84 938.87,336.85 939.98,336.85 941.09,336.86 942.20,336.87 943.31,336.88 944.42,336.89 945.53,336.89 946.64,336.90 947.75,336.91 948.86,336.91 949.97,336.92 951.08,336.93 952.19,336.94 953.30,336.94 954.41,336.95 955.52,336.96 956.63,336.96 957.74,336.97 958.85,336.98 959.96,336.98 961.07,336.99 962.18,337.00 963.29,337.00 964.40,337.01 965.51,337.02 966.62,337.02 967.73,337.03 968.84,337.03 969.95,337.04 971.06,337.05 972.17,337.05 973.28,337.06 974.39,337.06 975.50,337.07 976.61,337.07 977.72,337.08 978.83,337.08 979.94,337.09 981.05,337.10 982.16,337.10 983.27,337.11 984.38,337.11 985.49,337.12 986.60,337.12"/>
<polyline stroke="#77AC30" points="98.60,337.96 99.71,337.96 100.82,337.97 101.93,337.97 103.04,337.97 104.15,337.97 105.26,337.97 106.37,337.97 107.48,337.97 108.59,337.97 109.70,337.98 110.81,337.98 111.92,337.98 113.03,337.98 114.14,337.98 115.25,337.98 116.36,337.98 117.47,337.99 118.58,337.99 119.69,337.99 120.80,337.99 121.91,337.99 123.02,337.99 124.13,337.99 125.24,338.00 126.35,338.00 127.46,338.00 128.57,338.00 129.68,338.00 130.79,338.00 131.90,338.01 133.01,338.01 134.12,338.01 135.23,338.01 136.34,338.01 137.45,338.01 138.56,338.02 139.67,338.02 140.78,338.02 141.89,338.02 143.00,338.02 144.11,338.03 145.22,338.03 146.33,338.03 147.44,338.03 148.55,338.03 149.66,338.03 150.77,338.04 151.88,338.04 152.99,338.04 154.10,338.04 155.21,338.05 156.32,338.05 157.43,338.05 158.54,338.05 159.65,338.05 160.76,338.06 161.87,338.06 162.98,338.06 164.09,338.06 165.20,338.07 166.31,338.07 167.42,338.07 168.53,338.07 169.64,338.07 170.75,338.08 171.86,338.08 172.97,338.08 174.08,338.08 175.19,338.09 176.30,338.09 177.41,338.09 178.52,338.10 179.63,338.10 180.74,338.10 181.85,338.10 182.96,338.11 184.07,338.11 185.18,338.11 186.29,338.12 187.40,338.12 188.51,338.12 189.62,338.12 190.73,338.13 191.84,338.13 192.95,338.13 194.06,338.14 195.17,338.14 196.28,338.14 197.39,338.15 198.50,338.15 199.61,338.15 200.72,338.16 201.83,338.16 202.94,338.16 204.05,338.17 205.16,338.17 206.27,338.17 207.38,338.18 208.49,338.18 209.60,338.19 210.71,338.19 211.82,338.19 212.93,338.20 214.04,338.20 215.15,338.21 216.26,338.21 217.37,338.21 218.48,338.22 219.59,338.22 220.70,338.23 221.81,338.23 222.92,338.24 224.03,338.24 225.14,338.25 226.25,338.25 227.36,338.25 228.47,338.26 229.58,338.26 230.69,338.27 231.80,338.27 232.91,338.28 234.02,338.29 235.13,338.29 236.24,338.30 237.35,338.30 238.46,338.31 239.57,338.31 240.68,338.32 241.79,338.32 242.90,338.33 244.01,338.34 245.12,338.34 246.23,338.35 247.34,338.35 248.45,338.36 249.56,338.37 250.67,338.37 251.78,338.38 252.89,338.39 254.00,338.39 255.11,338.40 256.22,338.41 257.33,338.41 258.44,338.42 259.55,338.43 260.66,338.44 261.77,338.44 262.88,338.45 263.99,338.46 265.10,338.47 266.21,338.47 267.32,338.48 268.43,338.49 269.54,338.50 270.65,338.51 271.76,338.52 272.87,338.53 273.98,338.54 275.09,338.54 276.20,338.55 277.31,338.56 278.42,338.57 279.53,338.58 280.64,338.59 281.75,338.60 282.86,338.61 283.97,338.62 285.08,338.63 286.19,338.65 287.30,338.66 288.41,338.67 289.52,338.68 290.63,338.69 291.74,338.70 292.85,338.71 293.96,338.73 295.07,338.74 296.18,338.75 297.29,338.76 298.40,338.78 299.51,338.79 300.62,338.81 301.73,338.82 302.84,338.83 303.95,338.85 305.06,338.86 306.17,338.88 307.28,338.89 308.39,338.91 309.50,338.92 310.61,338.94 311.72,338.96 312.83,338.97 313.94,338.99 315.05,339.01 316.16,339.03 317.27,339.04 318.38,339.06 319.49,339.08 320.60,339.10 321.71,339.12 322.82,339.14 323.93,339.16 325.04,339.18 326.15,339.20 327.26,339.23 328.37,339.25 329.48,339.27 330.59,339.29 331.70,339.32 332.81,339.34 333.92,339.37 335.03,339.39 336.14,339.42 337.25,339.44 338.36,339.47 339.47,339.50 340.58,339.53 341.69,339.55 342.80,339.58 343.91,339.61 345.02,339.64 346.13,339.68 347.24,339.71 348.35,339.74 349.46,339.77 350.57,339.81 351.68,339.84 352.79,339.88 353.90,339.92 355.01,339.95 356.12,339.99 357.23,340.03 358.34,340.07 359.45,340.11 360.56,340.16 361.67,340.20 362.78,340.24 363.89,340.29 365.00,340.34 366.11,340.38 367.22,340.43 368.33,340.48 369.44,340.53 370.55,340.59 371.66,340.64 372.77,340.70 373.88,340.75 374.99,340.81 376.10,340.87 377.21,340.94 378.32,341.00 379.43,341.06 380.54,341.13 381.65,341.20 382.76,341.27 383.87,341.34 384.98,341.42 386.09,341.50 387.20,341.57 388.31,341.66 389.42,341.74 390.53,341.83 391.64,341.91 392.75,342.00 393.86,342.10 394.97,342.20 396.08,342.30 397.19,342.40 398.30,342.50 399.41,342.61 400.52,342.72 401.63,342.84 402.74,342.96 403.85,343.08 404.96,343.21 406.07,343.34 407.18,343.48 408.29,343.62 409.40,343.76 410.51,343.91 411.62,344.06 412.73,344.22 413.84,344.39 414.95,344.56 416.06,344.73 417.17,344.91 418.28,345.10 419.39,345.30 420.50,345.50 421.61,345.71 422.72,345.92 423.83,346.15 424.94,346.38 426.05,346.62 427.16,346.87 428.27,347.13 429.38,347.40 430.49,347.68 431.60,347.97 432.71,348.27 433.82,348.58 434.93,348.90 436.04,349.24 437.15,349.59 438.26,349.95 439.37,350.33 440.48,350.73 441.59,351.14 442.70,351.56 443.81,352.01 444.92,352.47 446.03,352.96 447.14,353.46 448.25,353.98 449.36,354.53 450.47,355.10 451.58,355.70 452.69,356.32 453.80,356.96 454.91,357.64 456.02,358.35 457.13,359.09 458.24,359.86 459.35,360.66 460.46,361.50 461.57,362.38 462.68,363.30 463.79,364.26 464.90,365.27 466.01,366.32 467.12,367.41 468.23,368.56 469.34,369.75 470.45,371.00 471.56,372.31 472.67,373.67 473.78,375.09 474.89,376.56 476.00,378.11 477.11,379.71 478.22,381.38 479.33,383.11 480.44,384.90 481.55,386.76 482.66,388.69 483.77,390.67 484.88,392.72 485.99,394.82 487.10,396.97 488.21,399.17 489.32,401.40 490.43,403.66 491.54,405.95 492.65,408.24 493.76,410.52 494.87,412.78 495.98,415.00 497.09,417.17 498.20,419.25 499.31,421.23 500.42,423.09 501.53,424.79 502.64,426.33 503.75,427.66 504.86,428.78 505.97,429.65 507.08,430.25 508.19,430.58 509.30,430.61 510.41,430.34 511.52,429.75 512.63,428.86 513.74,427.65 514.85,426.13 515.96,424.33 517.07,422.24 518.18,419.88 519.29,417.28 520.40,414.46 521.51,411.43 522.62,408.22 523.73,404.85 524.84,401.33 525.95,397.70 527.06,393.97 528.17,390.16 529.28,386.28 530.39,382.34 531.50,378.37 532.61,374.36 533.72,370.33 534.83,366.28 535.94,362.22 537.05,358.16 538.16,354.09 539.27,350.02 540.38,345.94 541.49,341.87 542.60,337.80 543.71,333.73 544.82,329.66 545.93,325.58 547.04,321.51 548.15,317.44 549.26,313.38 550.37,309.32 551.48,305.27 552.59,301.24 553.70,297.23 554.81,293.26 555.92,289.32 557.03,285.44 558.14,281.63 559.25,277.90 560.36,274.27 561.47,270.75 562.58,267.38 563.69,264.17 564.80,261.14 565.91,258.32 567.02,255.72 568.13,253.36 569.24,251.27 570.35,249.47 571.46,247.95 572.57,246.74 573.68,245.85 574.79,245.26 575.90,244.99 577.01,245.02 578.12,245.35 579.23,245.95 580.34,246.82 581.45,247.94 582.56,249.27 583.67,250.81 584.78,252.51 585.89,254.37 587.00,256.35 588.11,258.43 589.22,260.60 590.33,262.82 591.44,265.08 592.55,267.36 593.66,269.65 594.77,271.94 595.88,274.20 596.99,276.43 598.10,278.63 599.21,280.78 600.32,282.88 601.43,284.93 602.54,286.91 603.65,288.84 604.76,290.70 605.87,292.49 606.98,294.22 608.09,295.89 609.20,297.49 610.31,299.04 611.42,300.51 612.53,301.93 613.64,303.29 614.75,304.60 615.86,305.85 616.97,307.04 618.08,308.19 619.19,309.28 620.30,310.33 621.41,311.34 622.52,312.30 623.63,313.22 624.74,314.10 625.85,314.94 626.96,315.74 628.07,316.51 629.18,317.25 630.29,317.96 631.40,318.64 632.51,319.28 633.62,319.90 634.73,320.50 635.84,321.07 636.95,321.62 638.06,322.14 639.17,322.64 640.28,323.13 641.39,323.59 642.50,324.04 643.61,324.46 644.72,324.87 645.83,325.27 646.94,325.65 648.05,326.01 649.16,326.36 650.27,326.70 651.38,327.02 652.49,327.33 653.60,327.63 654.71,327.92 655.82,328.20 656.93,328.47 658.04,328.73 659.15,328.98 660.26,329.22 661.37,329.45 662.48,329.68 663.59,329.89 664.70,330.10 665.81,330.30 666.92,330.50 668.03,330.69 669.14,330.87 670.25,331.04 671.36,331.21 672.47,331.38 673.58,331.54 674.69,331.69 675.80,331.84 676.91,331.98 678.02,332.12 679.13,332.26 680.24,332.39 681.35,332.52 682.46,332.64 683.57,332.76 684.68,332.88 685.79,332.99 686.90,333.10 688.01,333.20 689.12,333.30 690.23,333.40 691.34,333.50 692.45,333.60 693.56,333.69 694.67,333.77 695.78,333.86 696.89,333.94 698.00,334.03 699.11,334.10 700.22,334.18 701.33,334.26 702.44,334.33 703.55,334.40 704.66,334.47 705.77,334.54 706.88,334.60 707.99,334.66 709.10,334.73 710.21,334.79 711.32,334.85 712.43,334.90 713.54,334.96 714.65,335.01 715.76,335.07 716.87,335.12 717.98,335.17 719.09,335.22 720.20,335.26 721.31,335.31 722.42,335.36 723.53,335.40 724.64,335.44 725.75,335.49 726.86,335.53 727.97,335.57 729.08,335.61 730.19,335.65 731.30,335.68 732.41,335.72 733.52,335.76 734.63,335.79 735.74,335.83 736.85,335.86 737.96,335.89 739.07,335.92 740.18,335.96 741.29,335.99 742.40,336.02 743.51,336.05 744.62,336.07 745.73,336.10 746.84,336.13 747.95,336.16 749.06,336.18 750.17,336.21 751.28,336.23 752.39,336.26 753.50,336.28 754.61,336.31 755.72,336.33 756.83,336.35 757.94,336.37 759.05,336.40 760.16,336.42 761.27,336.44 762.38,336.46 763.49,336.48 764.60,336.50 765.71,336.52 766.82,336.54 767.93,336.56 769.04,336.57 770.15,336.59 771.26,336.61 772.37,336.63 773.48,336.64 774.59,336.66 775.70,336.68 776.81,336.69 777.92,336.71 779.03,336.72 780.14,336.74 781.25,336.75 782.36,336.77 783.47,336.78 784.58,336.79 785.69,336.81 786.80,336.82 787.91,336.84 789.02,336.85 790.13,336.86 791.24,336.87 792.35,336.89 793.46,336.90 794.57,336.91 795.68,336.92 796.79,336.93 797.90,336.94 799.01,336.95 800.12,336.97 801.23,336.98 802.34,336.99 803.45,337.00 804.56,337.01 805.67,337.02 806.78,337.03 807.89,337.04 809.00,337.05 810.11,337.06 811.22,337.06 812.33,337.07 813.44,337.08 814.55,337.09 815.66,337.10 816.77,337.11 817.88,337.12 818.99,337.13 820.10,337.13 821.21,337.14 822.32,337.15 823.43,337.16 824.54,337.16 825.65,337.17 826.76,337.18 827.87,337.19 828.98,337.19 830.09,337.20 831.20,337.21 832.31,337.21 833.42,337.22 834.53,337.23 835.64,337.23 836.75,337.24 837.86,337.25 838.97,337.25 840.08,337.26 841.19,337.26 842.30,337.27 843.41,337.28 844.52,337.28 845.63,337.29 846.74,337.29 847.85,337.30 848.96,337.30 850.07,337.31 851.18,337.31 852.29,337.32 853.40,337.33 854.51,337.33 855.62,337.34 856.73,337.34 857.84,337.35 858.95,337.35 860.06,337.35 861.17,337.36 862.28,337.36 863.39,337.37 864.50,337.37 865.61,337.38 866.72,337.38 867.83,337.39 868.94,337.39 870.05,337.39 871.16,337.40 872.27,337.40 873.38,337.41 874.49,337.41 875.60,337.41 876.71,337.42 877.82,337.42 878.93,337.43 880.04,337.43 881.15,337.43 882.26,337.44 883.37,337.44 884.48,337.44 885.59,337.45 886.70,337.45 887.81,337.45 888.92,337.46 890.03,337.46 891.14,337.46 892.25,337.47 893.36,337.47 894.47,337.47 895.58,337.48 896.69,337.48 897.80,337.48 898.91,337.48 900.02,337.49 901.13,337.49 902.24,337.49 903.35,337.50 904.46,337.50 905.57,337.50 906.68,337.50 907.79,337.51 908.90,337.51 910.01,337.51 911.12,337.52 912.23,337.52 913.34,337.52 914.45,337.52 915.56,337.53 916.67,337.53 917.78,337.53 918.89,337.53 920.00,337.53 921.11,337.54 922.22,337.54 923.33,337.54 924.44,337.54 925.55,337.55 926.66,337.55 927.77,337.55 928.88,337.55 929.99,337.55 931.10,337.56 932.21,337.56 933.32,337.56 934.43,337.56 935.54,337.57 936.65,337.57 937.76,337.57 938.87,337.57 939.98,337.57 941.09,337.57 942.20,337.58 943.31,337.58 944.42,337.58 945.53,337.58 946.64,337.58 947.75,337.59 948.86,337.59 949.97,337.59 951.08,337.59 952.19,337.59 953.30,337.59 954.41,337.60 955.52,337.60 956.63,337.60 957.74,337.60 958.85,337.60 959.96,337.60 961.07,337.61 962.18,337.61 963.29,337.61 964.40,337.61 965.51,337.61 966.62,337.61 967.73,337.61 968.84,337.62 969.95,337.62 971.06,337.62 972.17,337.62 973.28,337.62 974.39,337.62 975.50,337.62 976.61,337.63 977.72,337.63 978.83,337.63 979.94,337.63 981.05,337.63 982.16,337.63 983.27,337.63 984.38,337.63 985.49,337.64 986.60,337.64"/>
</g>
<text class="tk" x="89.8" y="675.20" text-anchor="end">-2</text>
<text class="tk" x="89.8" y="593.75" text-anchor="end">-1.5</text>
<text class="tk" x="89.8" y="512.30" text-anchor="end">-1</text>
<text class="tk" x="89.8" y="430.85" text-anchor="end">-0.5</text>
<text class="tk" x="89.8" y="349.40" text-anchor="end">0</text>
<text class="tk" x="89.8" y="267.95" text-anchor="end">0.5</text>
<text class="tk" x="89.8" y="186.50" text-anchor="end">1</text>
<text class="tk" x="89.8" y="105.05" text-anchor="end">1.5</text>
<text class="tk" x="89.8" y="23.60" text-anchor="end">2</text>
<text class="tk" x="98.60" y="702.9" text-anchor="middle">-10</text>
<text class="tk" x="320.60" y="702.9" text-anchor="middle">-5</text>
<text class="tk" x="542.60" y="702.9" text-anchor="middle">0</text>
<text class="tk" x="764.60" y="702.9" text-anchor="middle">5</text>
<text class="tk" x="987.40" y="702.9" text-anchor="middle">10</text>
<text class="lb" x="542.3" y="746.4" text-anchor="middle"><tspan class="it">e</tspan>(<tspan class="it">n</tspan>)</text>
<text class="lb" transform="translate(26.5,338.4) rotate(-90)" text-anchor="middle"><tspan class="it">φ</tspan>[<tspan class="it">e</tspan>(<tspan class="it">n</tspan>)]</text>
<rect x="131.3" y="42.9" width="227.90" height="174.10" fill="#fff" stroke="#262626" stroke-width="2.6"/>
<line x1="143.9" y1="64.8" x2="274.5" y2="64.8" stroke="#0072BD" stroke-width="4.5"/>
<text class="lg" x="284.5" y="75.00"><tspan class="it">b</tspan>=0.3</text>
<line x1="143.9" y1="97.5" x2="261.2" y2="97.5" stroke="#D95319" stroke-width="4.5" stroke-dasharray="13.28 12.78"/>
<text class="lg" x="284.5" y="107.70"><tspan class="it">b</tspan>=0.4</text>
<line x1="143.9" y1="130.2" x2="271.3" y2="130.2" stroke="#EDB120" stroke-width="4.5" stroke-dasharray="13.28 3 7 2.78"/>
<text class="lg" x="284.5" y="140.40"><tspan class="it">b</tspan>=0.5</text>
<line x1="143.9" y1="162.8" x2="271.3" y2="162.8" stroke="#7E2F8E" stroke-width="4.5" stroke-dasharray="3.5 3.025"/>
<text class="lg" x="284.5" y="173.00"><tspan class="it">b</tspan>=0.7</text>
<line x1="143.9" y1="195.5" x2="274.5" y2="195.5" stroke="#77AC30" stroke-width="4.5"/>
<text class="lg" x="284.5" y="205.70"><tspan class="it">b</tspan>=1</text>
</svg></body></html>
